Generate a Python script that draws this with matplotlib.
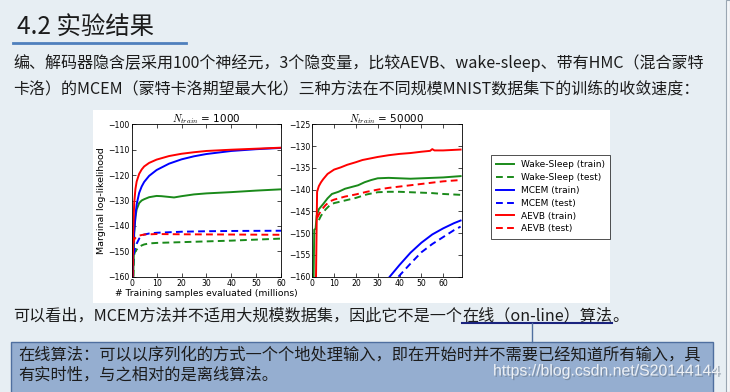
import matplotlib
matplotlib.use('Agg')
import matplotlib.pyplot as plt
import matplotlib.patches as patches
import matplotlib.patheffects as pe

plt.rcParams['mathtext.fontset'] = 'cm'

# ---- data ----
# N_train = 1000
ws_train_x1 = [0.6, 0.9, 1.0, 1.5, 2, 3, 4, 5, 7, 10, 12, 15, 17, 20, 25, 30, 40, 50, 60]
ws_train_y1 = [-160, -150, -143, -136.5, -133.5, -131, -130, -129.5, -128.7, -128.2, -128.3, -128.6, -128.8, -128.3, -127.6, -127.2, -126.7, -126.1, -125.6]
ws_test_x1 = [0.7, 0.9, 1.2, 2, 3, 4, 5, 7, 10, 20, 30, 40, 50, 60]
ws_test_y1 = [-160, -152, -150.5, -149.3, -148.3, -147.7, -147.3, -146.9, -146.7, -146.4, -146.1, -145.8, -145.4, -145.0]
mc_train_x1 = [0.3, 0.6, 1, 1.5, 2, 3, 4, 5, 7, 10, 15, 20, 25, 30, 40, 50, 60]
mc_train_y1 = [-160, -150, -142, -136, -131.5, -127, -124.5, -122.7, -120.3, -118, -115.5, -113.8, -112.6, -111.7, -110.5, -109.8, -109.3]
mc_test_x1 = [0.4, 0.7, 1, 1.5, 2, 3, 4, 5, 7, 10, 20, 30, 40, 60]
mc_test_y1 = [-160, -152, -150, -148.5, -147, -145, -144, -143.4, -143, -142.7, -142.3, -142.1, -142, -141.9]
ae_train_x1 = [0.3, 0.6, 1, 1.5, 2, 3, 4, 5, 7, 10, 15, 20, 25, 30, 40, 50, 60]
ae_train_y1 = [-160, -142, -131, -125.5, -122.5, -119.5, -117.8, -116.6, -115.2, -113.9, -112.5, -111.6, -111, -110.5, -110, -109.6, -109.2]
ae_test_x1 = [0.3, 0.5, 0.8, 1.2, 2, 3, 5, 10, 20, 40, 60]
ae_test_y1 = [-160, -150, -146, -145, -144.2, -143.8, -143.4, -143.2, -143.3, -143.4, -143.5]

# N_train = 50000
ws_train_x2 = [0.6, 0.9, 1.5, 2, 3, 5, 7, 9, 12, 15, 18, 21, 24, 27, 30, 35, 40, 45, 50, 55, 60, 68]
ws_train_y2 = [-160, -149.2, -149, -146, -144.5, -143.3, -142, -141, -140.5, -139.8, -139.4, -139.0, -138.3, -137.8, -137.4, -137.3, -137.4, -137.5, -137.4, -137.3, -137.2, -136.9]
ws_test_x2 = [3, 4, 6, 8, 10, 15, 20, 25, 30, 35, 40, 45, 50, 55, 60, 68]
ws_test_y2 = [-147, -146, -144.6, -143.6, -143.1, -142.5, -141.9, -141.1, -140.6, -140.5, -140.5, -140.6, -140.7, -140.8, -141.0, -141.2]
mc_train_x2 = [35.5, 40, 45, 50, 55, 60, 65, 68]
mc_train_y2 = [-160, -157.3, -154.5, -152.2, -150.3, -148.9, -147.7, -147.1]
mc_test_x2 = [39.5, 45, 50, 55, 60, 65, 68]
mc_test_y2 = [-160, -157, -154.4, -152.5, -150.9, -149.3, -148.5]
ae_train_x2 = [1.7, 2.0, 2.2, 3, 4, 5, 7, 10, 13, 16, 20, 23, 26, 30, 35, 40, 45, 50, 54, 55, 56, 60, 64, 68]
ae_train_y2 = [-160, -148, -140.5, -139.2, -138.3, -137.6, -136.4, -135.4, -134.9, -134.3, -133.7, -133.2, -132.9, -132.5, -132.1, -131.8, -131.6, -131.3, -131.1, -130.7, -131.0, -131.0, -130.9, -130.8]
ae_test_x2 = [2.2, 4, 6, 8, 10, 15, 20, 25, 30, 35, 40, 45, 50, 55, 60, 68]
ae_test_y2 = [-146.5, -144.8, -143.6, -142.7, -142.3, -141.6, -141.1, -140.5, -140.0, -139.6, -139.3, -139.0, -138.7, -138.4, -138.1, -137.8]

labels = ['Wake-Sleep (train)', 'Wake-Sleep (test)', 'MCEM (train)',
          'MCEM (test)', 'AEVB (train)', 'AEVB (test)']
colors = ['#1a8a1a', '#1a8a1a', '#0000ff', '#0000ff', '#ff0000', '#ff0000']

W, H = 730, 392
CJK = ['Noto Sans CJK SC', 'DejaVu Sans']
BG = '#e7eef3'
TXT = '#1c1c1c'


def fx(x):
    return x / W


def fy(y):
    return 1 - y / H


fig = plt.figure(figsize=(W / 100, H / 100), dpi=100)
fig.patch.set_facecolor(BG)
renderer = fig.canvas.get_renderer()

# right edge of the slide
fig.patches.append(patches.Rectangle((fx(726), 0), fx(4), 1, transform=fig.transFigure,
                                     facecolor='#f4f6f8', edgecolor='#9aa6b2', lw=0.8, zorder=-5))

# title + underline
fig.text(fx(17), fy(27), '4.2 实验结果', family=CJK, fontsize=17.6, color=TXT, va='center')
fig.add_artist(plt.Line2D([fx(13), fx(186)], [fy(43), fy(43)], transform=fig.transFigure,
                          color='#4f7fbd', lw=2))

line1 = '编、解码器隐含层采用100个神经元，3个隐变量，比较AEVB、wake-sleep、带有HMC（混合蒙特'
line2 = '卡洛）的MCEM（蒙特卡洛期望最大化）三种方法在不同规模MNIST数据集下的训练的收敛速度：'
fig.text(fx(13), fy(63), line1, family=CJK, fontsize=11.55, color=TXT, va='center')
fig.text(fx(13), fy(90), line2, family=CJK, fontsize=11.55, color=TXT, va='center')

# white area of the embedded figure
fig.patches.append(patches.Rectangle((fx(93), fy(303)), fx(610 - 93), (303 - 110) / H,
                                     transform=fig.transFigure, facecolor='white',
                                     edgecolor='none', zorder=-5))

ax_w = 149.4 / W
ax_h = 152.4 / H
ax1 = fig.add_axes([fx(131.7), fy(276.7), ax_w, ax_h])
ax2 = fig.add_axes([fx(312.3), fy(276.7), ax_w, ax_h])

series1 = [(ws_train_x1, ws_train_y1), (ws_test_x1, ws_test_y1), (mc_train_x1, mc_train_y1),
           (mc_test_x1, mc_test_y1), (ae_train_x1, ae_train_y1), (ae_test_x1, ae_test_y1)]
series2 = [(ws_train_x2, ws_train_y2), (ws_test_x2, ws_test_y2), (mc_train_x2, mc_train_y2),
           (mc_test_x2, mc_test_y2), (ae_train_x2, ae_train_y2), (ae_test_x2, ae_test_y2)]

handles = []
for ax, series in [(ax1, series1), (ax2, series2)]:
    for i, (xs, ys) in enumerate(series):
        ln, = ax.plot(xs, ys, color=colors[i], lw=1.4, label=labels[i])
        if i % 2 == 1:
            ln.set_dashes((3.5, 2.2))
        if ax is ax1:
            handles.append(ln)
    ax.tick_params(direction='in', top=True, right=True, labelsize=5.6, length=3, width=0.5, pad=1.5)
    for s in ax.spines.values():
        s.set_linewidth(0.6)
    ax.set_xticks(range(0, 61, 10))

ax1.set_xlim(0, 60)
ax1.set_ylim(-160, -100)
ax1.set_yticks(range(-160, -99, 10))
ax2.set_xlim(0, 68.5)
ax2.set_ylim(-160, -125)
ax2.set_yticks(range(-160, -124, 5))

ax1.set_title(r'$N_{train}$ = 1000', fontsize=7.5, pad=1.5)
ax2.set_title(r'$N_{train}$ = 50000', fontsize=7.5, pad=1.5)
ax1.set_ylabel('Marginal log-likelihood', fontsize=6.8, labelpad=1.5)
ax1.set_xlabel('# Training samples evaluated (millions)', fontsize=6.6, labelpad=1)

leg = fig.legend(handles=handles, loc='upper left', bbox_to_anchor=(fx(491), fy(155)),
                 fontsize=6.5, frameon=True, fancybox=False, handlelength=1.9,
                 labelspacing=0.42, borderpad=0.6, handletextpad=0.8, borderaxespad=0)
leg.get_frame().set_edgecolor('black')
leg.get_frame().set_linewidth(0.6)

# conclusion line, with the underlined part and the callout line
ta = fig.text(fx(13), fy(316), '可以看出，MCEM方法并不适用大规模数据集，因此它不是一个',
              family=CJK, fontsize=11.6, color=TXT, va='center')
bb_a = ta.get_window_extent(renderer)
tb = fig.text(bb_a.x1 / W, fy(316), '在线（on-line）算法', family=CJK, fontsize=11.6,
              color=TXT, va='center')
bb_b = tb.get_window_extent(renderer)
fig.text(bb_b.x1 / W, fy(316), '。', family=CJK, fontsize=11.6, color=TXT, va='center')
fig.add_artist(plt.Line2D([bb_b.x0 / W, bb_b.x1 / W], [fy(323), fy(323)],
                          transform=fig.transFigure, color='#1a237e', lw=1.5))
fig.add_artist(plt.Line2D([fx(532), fx(532)], [fy(323), fy(342)], transform=fig.transFigure,
                          color='#4f6f9f', lw=1))

fig.patches.append(patches.Rectangle((fx(11), fy(396)), fx(713 - 11), (396 - 342) / H,
                                     transform=fig.transFigure, facecolor='#95aed0',
                                     edgecolor='#4f6f9f', lw=1, zorder=-4))
fig.text(fx(18), fy(355), '在线算法：可以以序列化的方式一个个地处理输入，即在开始时并不需要已经知道所有输入，具',
         family=CJK, fontsize=11.7, color=TXT, va='center')
fig.text(fx(18), fy(375), '有实时性，与之相对的是离线算法。',
         family=CJK, fontsize=11.7, color=TXT, va='center')

fig.text(fx(493), fy(371), 'https://blog.csdn.net/S20144144', family='Liberation Sans',
         fontsize=11.4, color='#eef1f5', va='center',
         path_effects=[pe.withSimplePatchShadow(offset=(1, -1), shadow_rgbFace='#6a7a8c', alpha=0.6)])

fig.savefig('out.png', dpi=100, facecolor=fig.get_facecolor())
